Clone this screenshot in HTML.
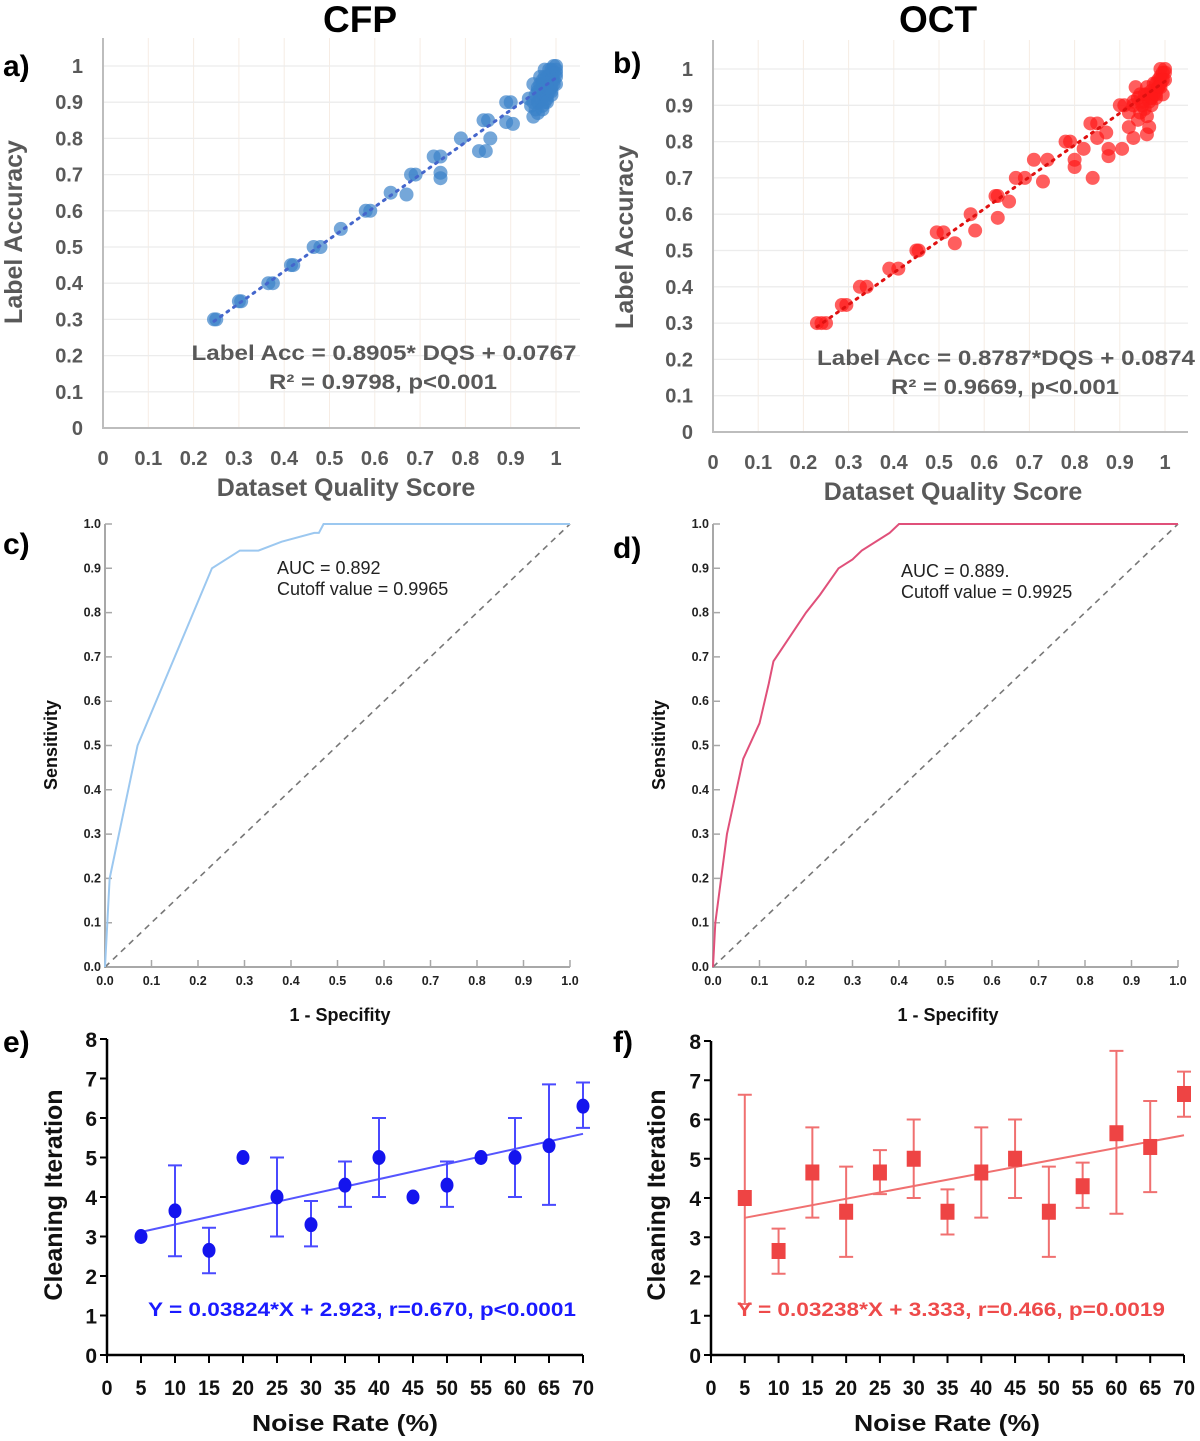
<!DOCTYPE html>
<html><head><meta charset="utf-8"><style>
html,body{margin:0;padding:0;background:#fff;width:1200px;height:1441px;overflow:hidden}
svg{display:block}
text{font-family:"Liberation Sans",sans-serif}
</style></head><body>
<svg id="fig" width="1200" height="1441" viewBox="0 0 1200 1441" xmlns="http://www.w3.org/2000/svg"></svg>
<script>
// ---------- DATA ----------
const dqsA=[0.245,0.25,0.3,0.305,0.365,0.375,0.415,0.42,0.465,0.48,0.525,0.58,0.59,0.635,0.67,0.68,0.69,0.73,0.745,0.745,0.745,0.79,0.83,0.845,0.84,0.85,0.855,0.89,0.9,0.89,0.905,0.95,0.95,0.955,0.96,0.965,0.97,0.97,0.975,0.975,0.98,0.98,0.985,0.985,0.99,0.99,0.99,0.995,0.995,0.995,1.0,1.0,1.0,0.96,0.97,0.98,0.985,0.99,0.975,0.965,0.94,0.945,0.955,0.96,0.97,0.98,0.99,1.0,0.995,0.985,0.975,0.965,0.95,0.96,0.97,0.98,0.99,1.0,0.99,0.98];
const accA=[0.3,0.3,0.35,0.35,0.4,0.4,0.45,0.45,0.5,0.5,0.55,0.6,0.6,0.65,0.645,0.7,0.7,0.75,0.75,0.705,0.69,0.8,0.765,0.765,0.85,0.85,0.8,0.9,0.9,0.845,0.84,0.95,0.86,0.88,0.9,0.91,0.92,0.89,0.93,0.9,0.95,0.92,0.96,0.93,0.97,0.99,0.94,1.0,0.98,0.96,1.0,0.99,0.97,0.93,0.95,0.9,0.94,0.92,0.97,0.95,0.91,0.89,0.92,0.94,0.96,0.97,0.98,0.98,0.95,0.99,0.99,0.97,0.9,0.87,0.88,0.91,0.93,0.95,0.96,0.94];
const dqsB=[0.23,0.24,0.25,0.285,0.295,0.325,0.34,0.39,0.41,0.45,0.455,0.495,0.51,0.535,0.57,0.58,0.625,0.63,0.63,0.655,0.67,0.69,0.73,0.71,0.74,0.78,0.79,0.8,0.8,0.82,0.84,0.835,0.85,0.85,0.87,0.875,0.875,0.9,0.91,0.905,0.92,0.93,0.935,0.94,0.96,0.965,0.95,0.955,0.96,0.97,0.975,0.98,0.985,0.99,0.99,0.995,1.0,1.0,0.97,0.98,0.985,0.99,0.995,0.945,0.93,0.92,0.93,0.94,0.95,0.96,0.97,0.98,0.99,1.0,0.995,0.985,0.975,0.965,0.955,0.945,0.97,0.98,0.99,0.96];
const accB=[0.3,0.3,0.3,0.35,0.35,0.4,0.4,0.45,0.45,0.5,0.5,0.55,0.55,0.52,0.6,0.555,0.65,0.65,0.59,0.635,0.7,0.7,0.69,0.75,0.75,0.8,0.8,0.75,0.73,0.78,0.7,0.85,0.85,0.81,0.825,0.78,0.76,0.9,0.9,0.78,0.84,0.81,0.95,0.86,0.82,0.84,0.9,0.93,0.95,0.92,0.96,0.94,0.97,1.0,0.98,0.99,1.0,0.97,0.9,0.92,0.95,0.96,0.93,0.88,0.91,0.88,0.9,0.92,0.91,0.93,0.94,0.96,0.97,0.99,0.97,0.95,0.93,0.91,0.89,0.93,0.92,0.93,0.95,0.87];
const rocCx=[0,0.01,0.02,0.07,0.15,0.23,0.29,0.33,0.38,0.45,0.46,0.47,1.0];
const rocCy=[0,0.2,0.25,0.5,0.7,0.9,0.94,0.94,0.96,0.98,0.98,1.0,1.0];
const rocDx=[0,0.005,0.03,0.065,0.1,0.12,0.13,0.2,0.23,0.27,0.3,0.32,0.38,0.4,1.0];
const rocDy=[0,0.1,0.3,0.47,0.55,0.64,0.69,0.8,0.84,0.9,0.92,0.94,0.98,1.0,1.0];
const noise=[5,10,15,20,25,30,35,40,45,50,55,60,65,70];
const iterE=[3,3.65,2.65,5,4,3.3,4.3,5,4,4.3,5,5,5.3,6.3];
const loE=[null,2.5,2.07,null,3,2.75,3.75,4,null,3.75,null,4,3.8,5.75];
const hiE=[null,4.8,3.22,null,5,3.9,4.9,6,null,4.9,null,6,6.85,6.9];
const iterF=[4,2.65,4.65,3.65,4.65,5,3.65,4.65,5,3.65,4.3,5.65,5.3,6.65];
const loF=[1.3,2.07,3.5,2.5,4.1,4,3.07,3.5,4,2.5,3.75,3.6,4.15,6.07];
const hiF=[6.63,3.22,5.8,4.8,5.22,6,4.22,5.8,6,4.8,4.9,7.75,6.47,7.22];
const fitE=[0.03824,2.923];
const fitF=[0.03238,3.333];
const dqsTicks=['0','0.1','0.2','0.3','0.4','0.5','0.6','0.7','0.8','0.9','1'];
const rocTicks=['0.0','0.1','0.2','0.3','0.4','0.5','0.6','0.7','0.8','0.9','1.0'];
const noiseTicks=[0,5,10,15,20,25,30,35,40,45,50,55,60,65,70];
const iterTicks=[0,1,2,3,4,5,6,7,8];

// ---------- helpers ----------
const NS='http://www.w3.org/2000/svg';
const svg=document.getElementById('fig');
function mk(tag,attrs,parent){const e=document.createElementNS(NS,tag);for(const k in attrs)e.setAttribute(k,attrs[k]);(parent||svg).appendChild(e);return e;}
function txt(s,attrs,parent){const e=mk('text',attrs,parent);e.textContent=s;return e;}
function lin(d0,d1,r0,r1){return v=>r0+(v-d0)*(r1-r0)/(d1-d0);}

// ---------- titles / panel letters ----------
let t;
t=txt('CFP',{x:360,y:32,'text-anchor':'middle','font-size':37,'font-weight':'bold',fill:'#000'});


t=txt('OCT',{x:938,y:32,'text-anchor':'middle','font-size':37,'font-weight':'bold',fill:'#000'});


[['a)',3,76],['b)',613,73],['c)',3,554],['d)',613,558],['e)',3,1052],['f)',613,1052]].forEach(p=>{
  const e=txt(p[0],{x:p[1],y:p[2],'font-size':30,'font-weight':'bold',fill:'#000'});
  
  
});

// ---------- scatter panels a/b ----------
function scatter(cfg){
  const g=mk('g',{});
  
  
  const X=lin(0,1,cfg.x0,cfg.x1),Y=lin(0,1,cfg.y0,cfg.y1);
  for(let i=1;i<=10;i++){const v=i*0.1;const gl=mk('line',{x1:X(v),x2:X(v),y1:cfg.top,y2:cfg.y0,stroke:'#f6ece4','stroke-width':1},g);
    
    }
  for(let i=1;i<=10;i++){const v=i*0.1;const gl=mk('line',{x1:cfg.x0,x2:cfg.right,y1:Y(v),y2:Y(v),stroke:'#ececec','stroke-width':1.3},g);
    
    }
  const ax=mk('path',{d:`M${cfg.x0} ${cfg.top}V${cfg.y0}H${cfg.right}`,fill:'none',stroke:'#bdbdbd','stroke-width':2},g);
  
  
  dqsTicks.forEach((s,i)=>{
    const v=i*0.1;
    const a=txt(s,{x:X(v),y:cfg.y0+37,'text-anchor':'middle','font-size':20,'font-weight':'bold',fill:'#595959'},g);
    
    
    const b=txt(s,{x:cfg.x0-20,y:Y(v)+7,'text-anchor':'end','font-size':20,'font-weight':'bold',fill:'#595959'},g);
    
    
  });
  for(let i=0;i<cfg.xs.length;i++){
    const c=mk('circle',{cx:X(cfg.xs[i]),cy:Y(cfg.ys[i]),r:7,fill:cfg.color,'fill-opacity':0.7},g);
    
    
  }
  const tr=mk('line',{x1:X(cfg.fx0),y1:Y(cfg.fit[0]*cfg.fx0+cfg.fit[1]),x2:X(1),y2:Y(cfg.fit[0]+cfg.fit[1]),stroke:cfg.trend,'stroke-width':3,'stroke-dasharray':'2 6','stroke-linecap':'round'},g);
  
  
  const yt=txt('Label Accuracy',{x:0,y:0,transform:`translate(${cfg.ytx},${cfg.yty}) rotate(-90)`,'text-anchor':'middle','font-size':25,'font-weight':'bold',fill:'#595959'},g);
  
  
  const xt=txt('Dataset Quality Score',{x:cfg.xtx,y:cfg.y0+68,'text-anchor':'middle','font-size':25,'font-weight':'bold',fill:'#595959'},g);
  
  
  const e1=txt(cfg.eq1,{x:cfg.eqx,y:cfg.eqy,'text-anchor':'middle','font-size':21,'font-weight':'bold',fill:'#595959',textLength:cfg.eqw1,lengthAdjust:'spacingAndGlyphs'},g);
  
  
  const e2=txt(cfg.eq2,{x:cfg.eqx2,y:cfg.eqy+29,'text-anchor':'middle','font-size':21,'font-weight':'bold',fill:'#595959',textLength:cfg.eqw2,lengthAdjust:'spacingAndGlyphs'},g);
  
  
}
scatter({name:'panel-a-cfp-scatter',x0:103,x1:556,y0:428,y1:66,top:38,right:580,xs:dqsA,ys:accA,color:'#3b82c9',trend:'#4466cc',fit:[0.8905,0.0767],fx0:0.245,ytx:22,yty:232,xtx:346,eq1:'Label Acc = 0.8905* DQS + 0.0767',eq2:'R² = 0.9798, p<0.001',eqx:384,eqw1:385,eqx2:383,eqw2:228,eqy:360});
scatter({name:'panel-b-oct-scatter',x0:713,x1:1165,y0:432,y1:69,top:40,right:1188,xs:dqsB,ys:accB,color:'#ff1a1a',trend:'#e01010',fit:[0.8787,0.0874],fx0:0.23,ytx:633,yty:237,xtx:953,eq1:'Label Acc = 0.8787*DQS + 0.0874',eq2:'R² = 0.9669, p<0.001',eqx:1006,eqw1:378,eqx2:1005,eqw2:228,eqy:365});

// ---------- ROC panels c/d ----------
function roc(cfg){
  const g=mk('g',{});
  
  
  const X=lin(0,1,cfg.x0,cfg.x1),Y=lin(0,1,cfg.y0,cfg.y1);
  const ax=mk('path',{d:`M${cfg.x0} ${cfg.y1}V${cfg.y0}H${cfg.x1}`,fill:'none',stroke:'#a8a8a8','stroke-width':2},g);
  
  
  rocTicks.forEach((s,i)=>{
    const v=i*0.1;
    const tk=mk('path',{d:`M${X(v)} ${cfg.y0}v-7M${cfg.x0} ${Y(v)}h7`,stroke:'#a8a8a8','stroke-width':1.5},g);
    
    
    const a=txt(s,{x:X(v),y:cfg.y0+18,'text-anchor':'middle','font-size':12.5,'font-weight':'bold','font-family':'Liberation Serif, serif',fill:'#222'},g);
    
    
    const b=txt(s,{x:cfg.x0-4,y:Y(v)+4,'text-anchor':'end','font-size':12.5,'font-weight':'bold','font-family':'Liberation Serif, serif',fill:'#222'},g);
    
    
  });
  const dg=mk('line',{x1:X(0),y1:Y(0),x2:X(1),y2:Y(1),stroke:'#777','stroke-width':1.6,'stroke-dasharray':'6 5'},g);
  
  
  const pts=cfg.xs.map((v,i)=>X(v)+','+Y(cfg.ys[i])).join(' ');
  const cv=mk('polyline',{points:pts,fill:'none',stroke:cfg.color,'stroke-width':2},g);
  
  
  const yt=txt('Sensitivity',{x:0,y:0,transform:`translate(${cfg.ytx},745) rotate(-90)`,'text-anchor':'middle','font-size':18,'font-weight':'bold',fill:'#111'},g);
  
  
  const xt=txt('1 - Specifity',{x:cfg.xtx,y:1021,'text-anchor':'middle','font-size':18,'font-weight':'bold',fill:'#111'},g);
  
  
  const a1=txt(cfg.auc,{x:cfg.tx,y:cfg.ty,'font-size':18,fill:'#222'},g);
  
  
  const a2=txt(cfg.cut,{x:cfg.tx,y:cfg.ty+21,'font-size':18,fill:'#222'},g);
  
  
}
roc({name:'panel-c-cfp-roc',x0:105,x1:570,y0:967,y1:524,xs:rocCx,ys:rocCy,color:'#9cc8f0',ytx:57,xtx:340,auc:'AUC = 0.892',cut:'Cutoff value = 0.9965',tx:277,ty:574});
roc({name:'panel-d-oct-roc',x0:713,x1:1178,y0:967,y1:524,xs:rocDx,ys:rocDy,color:'#e0507a',ytx:665,xtx:948,auc:'AUC = 0.889.',cut:'Cutoff value = 0.9925',tx:901,ty:577});

// ---------- iteration panels e/f ----------
function iter(cfg){
  const g=mk('g',{});
  
  
  const X=lin(0,70,cfg.x0,cfg.x70),Y=lin(0,8,cfg.y0,cfg.y8);
  const ax=mk('path',{d:`M${cfg.x0} ${cfg.y8}V${cfg.y0}H${cfg.x70}`,fill:'none',stroke:'#000','stroke-width':2.5},g);
  
  
  iterTicks.forEach(v=>{
    const tk=mk('line',{x1:cfg.x0-7,x2:cfg.x0,y1:Y(v),y2:Y(v),stroke:'#000','stroke-width':2},g);
    
    
    const b=txt(String(v),{x:cfg.x0-10,y:Y(v)+8,'text-anchor':'end','font-size':21,'font-weight':'bold',fill:'#111'},g);
    
    
  });
  noiseTicks.forEach(v=>{
    const tk=mk('line',{x1:X(v),x2:X(v),y1:cfg.y0,y2:cfg.y0+8,stroke:'#000','stroke-width':2},g);
    
    
    const a=txt(String(v),{x:X(v),y:cfg.y0+40,'text-anchor':'middle','font-size':21,'font-weight':'bold',fill:'#111',textLength:String(v).length>1?22:11,lengthAdjust:'spacingAndGlyphs'},g);
    
    
  });
  const fl=mk('line',{x1:X(5),y1:Y(cfg.fit[0]*5+cfg.fit[1]),x2:X(70),y2:Y(cfg.fit[0]*70+cfg.fit[1]),stroke:cfg.line,'stroke-width':2},g);
  
  
  for(let i=0;i<noise.length;i++){
    const x=X(noise[i]);
    if(cfg.lo[i]!==null){
      const eb=mk('path',{d:`M${x} ${Y(cfg.lo[i])}V${Y(cfg.hi[i])}M${x-7} ${Y(cfg.lo[i])}h14M${x-7} ${Y(cfg.hi[i])}h14`,stroke:cfg.bar,'stroke-width':2,fill:'none'},g);
      
      
    }
    let m;
    if(cfg.square){m=mk('rect',{x:x-7,y:Y(cfg.ys[i])-8,width:14,height:16,fill:cfg.color},g);}
    else{m=mk('ellipse',{cx:x,cy:Y(cfg.ys[i]),rx:6.5,ry:7.5,fill:cfg.color},g);}
    
    
  }
  const yt=txt('Cleaning Iteration',{x:0,y:0,transform:`translate(${cfg.ytx},1195) rotate(-90)`,'text-anchor':'middle','font-size':25,'font-weight':'bold',fill:'#111'},g);
  
  
  const xt=txt('Noise Rate (%)',{x:cfg.xtx,y:1431,'text-anchor':'middle','font-size':23,'font-weight':'bold',fill:'#111',textLength:186,lengthAdjust:'spacingAndGlyphs'},g);
  
  
  const eq=txt(cfg.eq,{x:cfg.eqx,y:1316,'font-size':19,'font-weight':'bold',fill:cfg.eqc,textLength:cfg.eqw,lengthAdjust:'spacingAndGlyphs'},g);
  
  
}
iter({name:'panel-e-cfp-iterations',x0:107,x70:583,y0:1355,y8:1039,ys:iterE,lo:loE,hi:hiE,fit:fitE,color:'#1414ee',bar:'#4a4aff',line:'#5555ff',square:false,ytx:62,xtx:345,eq:'Y = 0.03824*X + 2.923, r=0.670, p<0.0001',eqx:148,eqw:428,eqc:'#1a1aff'});
iter({name:'panel-f-oct-iterations',x0:711,x70:1184,y0:1355,y8:1041,ys:iterF,lo:loF,hi:hiF,fit:fitF,color:'#ee4444',bar:'#f07070',line:'#f07070',square:true,ytx:665,xtx:947,eq:'Y = 0.03238*X + 3.333, r=0.466, p=0.0019',eqx:737,eqw:428,eqc:'#ee4a4a'});
</script>
</body></html>
